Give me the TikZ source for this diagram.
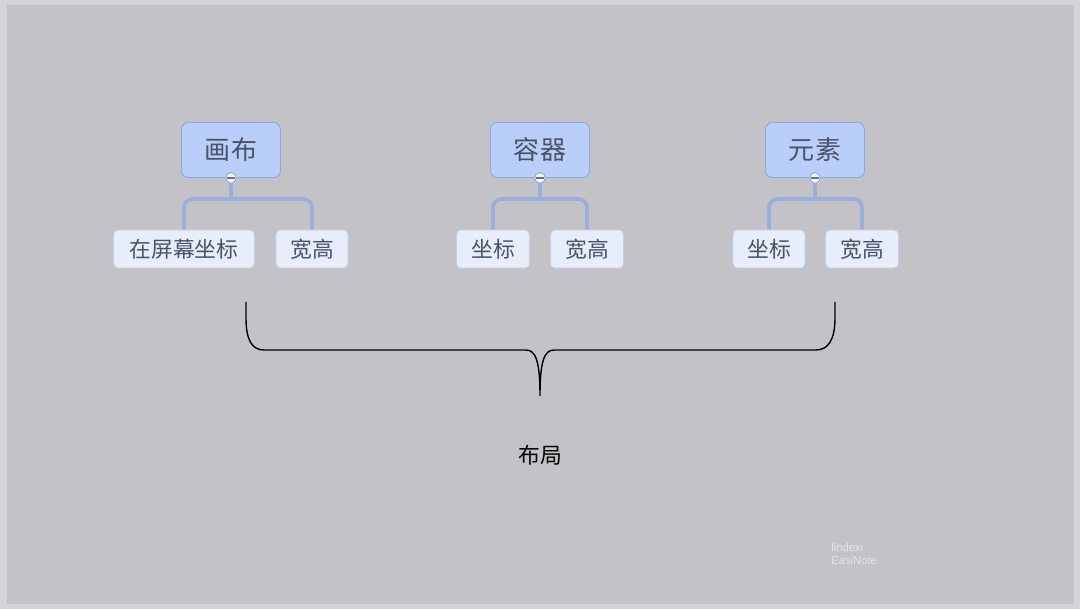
\documentclass[tikz,border=0pt]{standalone}
\usepackage{fontspec}
\newfontfamily\cjk{Noto Sans CJK SC}
\setmainfont{Liberation Sans}
\usetikzlibrary{positioning}

\definecolor{bgout}{HTML}{D4D4D8}
\definecolor{bgin}{HTML}{C3C2C6}
\definecolor{topfill}{HTML}{B9CFF9}
\definecolor{topline}{HTML}{8DA8DC}
\definecolor{subfill}{HTML}{E7EDF9}
\definecolor{subline}{HTML}{C2CEEA}
\definecolor{linkc}{HTML}{9BAFDD}
\definecolor{txt}{HTML}{4A5468}

\begin{document}
\begin{tikzpicture}[
        x=0.025cm, y=-0.025cm,
        % Kutular
        topic/.style={rectangle, rounded corners=5pt, draw=topline, fill=topfill, line width=0.6pt, minimum width=2.475cm, minimum height=1.375cm, font=\cjk\fontsize{18.5}{20}\selectfont, text=txt},
        subtopic/.style={rectangle, rounded corners=3pt, draw=subline, fill=subfill, line width=0.6pt, minimum height=0.95cm, font=\cjk\fontsize{15.5}{18}\selectfont, text=txt},
        fold/.style={circle, draw=linkc, fill=white!85!bgin, line width=0.8pt, minimum size=0.27cm, inner sep=0pt},
        link/.style={draw=linkc, line width=2.6pt, rounded corners=6pt},
        brace/.style={draw=black, line width=1pt}
    ]

    % Arka plan
    \fill[bgout] (0,0) rectangle (1080,609);
    \fill[bgin] (7,5) rectangle (1074,604);
    \useasboundingbox (0,0) rectangle (1080,609);

    % Ana dugumler
    \node (canvas) [topic] at (231,150) {画布};
    \node (box) [topic] at (540,150) {容器};
    \node (elem) [topic] at (815,150) {元素};

    % Alt dugumler
    \node (canvaspos) [subtopic, minimum width=3.525cm] at (184,249) {在屏幕坐标};
    \node (canvassize) [subtopic, minimum width=1.8cm] at (312,249) {宽高};
    \node (boxpos) [subtopic, minimum width=1.825cm] at (493,249) {坐标};
    \node (boxsize) [subtopic, minimum width=1.825cm] at (587,249) {宽高};
    \node (elempos) [subtopic, minimum width=1.8cm] at (769,249) {坐标};
    \node (elemsize) [subtopic, minimum width=1.825cm] at (862,249) {宽高};

    % Baglantilar
    \coordinate (canvasj) at (231,199);
    \coordinate (boxj) at (540,199);
    \coordinate (elemj) at (815,199);
    \draw [link] (canvaspos.north) |- (canvasj) -| (canvassize.north);
    \draw [link] (boxpos.north) |- (boxj) -| (boxsize.north);
    \draw [link] (elempos.north) |- (elemj) -| (elemsize.north);
    \draw [link] (canvas.south) -- (canvasj);
    \draw [link] (box.south) -- (boxj);
    \draw [link] (elem.south) -- (elemj);

    % Katlama isaretleri
    \foreach \n in {canvas, box, elem} {
        \node (\n fold) [fold] at (\n.south) {};
        \draw [txt!70!linkc, line width=1.1pt] ([xshift=-3]\n fold.center) -- ([xshift=3]\n fold.center);
    }

    % Kume parantezi
    \draw [brace] (246,302) -- (246,318)
        .. controls (246,340) and (252,350) .. (264,350) -- (526,350)
        .. controls (536,350) and (540,362) .. (540,396)
        .. controls (540,362) and (544,350) .. (554,350) -- (816,350)
        .. controls (828,350) and (835,340) .. (835,318) -- (835,302);
    \node (layout) [font=\cjk\fontsize{15.5}{18}\selectfont, text=black] at (540,455) {布局};

    % Filigran
    \node (mark) [font=\fontsize{8}{9.5}\selectfont, text=white!55!bgin, align=left, anchor=north west, inner sep=0pt] at (831,543) {lindexi\\EasiNote};

\end{tikzpicture}
\end{document}
